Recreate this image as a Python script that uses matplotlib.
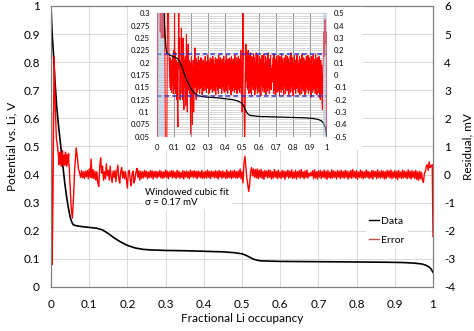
import numpy as np
import matplotlib
matplotlib.use("Agg")
import matplotlib.pyplot as plt
from matplotlib.lines import Line2D
from matplotlib.ticker import MultipleLocator, FuncFormatter

plt.rcParams['font.family'] = ['Lato', 'DejaVu Sans']
plt.rcParams['axes.unicode_minus'] = False

# measured potential (V) vs fractional Li occupancy
occ = [0, 0.003, 0.006, 0.01, 0.015, 0.02, 0.024, 0.028, 0.032, 0.036, 0.041, 0.045,
       0.05, 0.054, 0.058, 0.063, 0.07, 0.08, 0.1, 0.12, 0.135, 0.15, 0.165, 0.18, 0.2,
       0.22, 0.24, 0.26, 0.3, 0.35, 0.4, 0.45, 0.48, 0.5, 0.51, 0.52, 0.53, 0.54, 0.55,
       0.6, 0.7, 0.8, 0.88, 0.92, 0.95, 0.97, 0.98, 0.99, 0.995, 1.0]
potential_v = [1.0, 0.9, 0.84, 0.74, 0.64, 0.57, 0.52, 0.47, 0.42, 0.37, 0.32, 0.285,
               0.25, 0.232, 0.222, 0.219, 0.217, 0.215, 0.212, 0.209, 0.203, 0.19, 0.175,
               0.162, 0.148, 0.139, 0.134, 0.132, 0.13, 0.129, 0.127, 0.125, 0.122, 0.118,
               0.113, 0.106, 0.099, 0.095, 0.093, 0.091, 0.09, 0.089, 0.088, 0.087, 0.085,
               0.082, 0.078, 0.071, 0.064, 0.052]

# residual of the windowed cubic fit (mV), first few percent
err_head_x = [0.0, 0.001, 0.003, 0.005, 0.008, 0.011, 0.014, 0.017,
              0.020, 0.021, 0.022, 0.023, 0.024, 0.025, 0.026, 0.027, 0.028, 0.029,
              0.030, 0.031, 0.032, 0.033, 0.034, 0.035, 0.036, 0.037, 0.038, 0.039,
              0.040, 0.041, 0.042, 0.043, 0.044, 0.045, 0.046, 0.047, 0.048,
              0.05, 0.053, 0.056, 0.059, 0.062, 0.066, 0.069, 0.072]
err_head_mv = [0.3, 2.2, -3.2, -1.0, 4.2, 2.5, 1.3, 1.0,
               0.6, 0.35, 0.7, 0.4, 0.8, 0.45, 0.65, 0.3, 0.75, 0.5,
               0.85, 0.4, 0.6, 0.3, 0.7, 0.45, 0.55, 0.35, 0.8, 0.5,
               0.6, 0.3, 0.7, 0.4, 0.65, 0.5, 0.75, 0.35, 0.2,
               -0.4, -1.2, -1.55, -0.8, 0.2, 0.95, 0.6, 0.2]
# evenly sampled from 0.075 to 0.995 in steps of 0.0025 (20 per row)
err_mid_mv = [
    0.05, -0.10, 0.14, -0.12, 0.10, -0.14, 0.12, -0.08, 0.15, -0.15,
    0.20, -0.10, 0.55, -0.12, 0.18, -0.15, 0.12, -0.20, 0.10, -0.30,
    -0.42, 0.25, 0.60, 0.05, 0.30, -0.20, 0.10, -0.15, 0.38, -0.05,
    0.15, -0.20, 0.30, -0.10, -0.28, 0.12, -0.10, 0.15, -0.25, 0.10,
    0.33, -0.15, -0.30, 0.10, 0.25, -0.12, 0.12, -0.15, 0.10, -0.20,
    -0.48, 0.10, 0.15, -0.20, -0.40, 0.05, 0.12, -0.30, -0.15, 0.10,
    0.22, -0.10, 0.14, -0.20, 0.12, -0.14, 0.10, -0.12, 0.15, -0.08,
    0.12, -0.15, 0.09, -0.11, 0.14, -0.10, 0.13, -0.16, 0.11, -0.09,
    0.12, -0.13, 0.10, -0.08, 0.15, -0.12, 0.11, -0.14, 0.09, -0.10,
    0.16, -0.11, 0.12, -0.15, 0.10, -0.07, 0.14, -0.12, 0.13, -0.10,
    0.09, -0.14, 0.15, -0.10, 0.12, -0.13, 0.08, -0.11, 0.14, -0.16,
    0.11, -0.09, 0.13, -0.12, 0.10, -0.15, 0.16, -0.08, 0.12, -0.11,
    0.14, -0.10, 0.11, -0.15, 0.13, -0.09, 0.10, -0.12, 0.15, -0.14,
    0.09, -0.11, 0.12, -0.13, 0.16, -0.10, 0.11, -0.15, 0.13, -0.08,
    0.10, -0.12, 0.14, -0.11, 0.12, -0.16, 0.15, -0.09, 0.11, -0.13,
    0.13, -0.10, 0.09, -0.14, 0.16, -0.12, 0.10, -0.11, 0.14, -0.15,
    0.12, -0.10, 0.15, -0.12, 0.11, -0.14, 0.13, -0.10, 0.20, -0.15,
    0.10, -0.30, 0.35, 0.65, 0.30, -0.10, -0.35, -0.60, -0.35, 0.10,
    0.25, -0.05, 0.20, -0.10, 0.18, -0.12, 0.20, -0.15, 0.16, -0.10,
    0.18, -0.14, 0.12, -0.17, 0.15, -0.08, 0.13, -0.12, 0.17, -0.10,
    0.14, -0.16, 0.10, -0.12, 0.18, -0.09, 0.12, -0.15, 0.16, -0.11,
    0.09, -0.14, 0.15, -0.10, 0.13, -0.17, 0.11, -0.08, 0.16, -0.13,
    0.12, -0.10, 0.17, -0.14, 0.09, -0.12, 0.15, -0.16, 0.11, -0.09,
    0.14, -0.13, 0.18, -0.10, 0.10, -0.15, 0.13, -0.11, 0.16, -0.12,
    0.05, -0.06, 0.08, -0.05, 0.14, -0.15, 0.17, -0.12, 0.10, -0.16,
    0.13, -0.09, 0.15, -0.14, 0.11, -0.10, 0.16, -0.13, 0.12, -0.17,
    0.15, -0.11, 0.09, -0.14, 0.17, -0.12, 0.13, -0.10, 0.10, -0.16,
    0.14, -0.09, 0.12, -0.15, 0.16, -0.11, 0.11, -0.13, 0.15, -0.10,
    0.13, -0.16, 0.10, -0.12, 0.15, -0.14, 0.18, -0.09, 0.11, -0.13,
    0.14, -0.17, 0.09, -0.10, 0.16, -0.12, 0.12, -0.15, 0.10, -0.11,
    0.16, -0.10, 0.12, -0.14, 0.09, -0.12, 0.15, -0.16, 0.13, -0.08,
    0.11, -0.15, 0.17, -0.11, 0.10, -0.13, 0.14, -0.10, 0.12, -0.16,
    0.11, -0.14, 0.15, -0.09, 0.13, -0.12, 0.16, -0.15, 0.10, -0.11,
    0.14, -0.13, 0.12, -0.18, 0.15, -0.10, 0.09, -0.14, 0.16, -0.12,
    0.13, -0.11, 0.10, -0.15, 0.17, -0.12, 0.12, -0.16, 0.14, -0.10,
    0.11, -0.14, 0.15, -0.18, 0.10, -0.20, 0.12, -0.15, 0.08, -0.22,
    -0.28, 0.05, 0.10, 0.30, 0.35, 0.15, 0.45, 0.25, 0.30]
err_tail_x = [0.998, 1.0]
err_tail_mv = [0.35, -2.2]

sigma_mv = 0.17

err_mid_x = np.linspace(0.075, 0.995, len(err_mid_mv))
err_x = np.concatenate([err_head_x, err_mid_x, err_tail_x])
err_mv = np.concatenate([err_head_mv, err_mid_mv, err_tail_mv])

fmt = FuncFormatter(lambda v, p: f"{round(v, 3) + 0:g}")
spine_col = '#7f7f7f'

fig = plt.figure(figsize=(4.74, 3.31), dpi=100)
ax = fig.add_axes([0.1076, 0.133, 0.8059, 0.849])
ax.plot(occ, potential_v, color='black', lw=1.2)
ax.set_xlim(0, 1)
ax.set_ylim(0, 1)
ax.set_xticks(np.round(np.arange(0, 1.01, 0.1), 1))
ax.set_yticks(np.round(np.arange(0, 1.01, 0.1), 1))
ax.xaxis.set_major_formatter(fmt)
ax.yaxis.set_major_formatter(fmt)
ax.grid(color='#d9d9d9', lw=0.7)
ax.set_axisbelow(True)
ax.tick_params(length=0, labelsize=8.5)
ax.tick_params(axis='x', pad=9)
ax.tick_params(axis='y', pad=8)
ax.set_xlabel("Fractional Li occupancy", fontsize=8.5, labelpad=2)
ax.set_ylabel("Potential vs. Li, V", fontsize=8.5, labelpad=4)
for s in ax.spines.values():
    s.set_color(spine_col)
    s.set_linewidth(0.8)

axr = ax.twinx()
axr.plot(err_x, err_mv, color='red', lw=1.0)
axr.set_ylim(-4, 6)
axr.set_yticks(range(-4, 7))
axr.tick_params(length=0, labelsize=8.5, pad=8)
axr.set_ylabel("Residual, mV", fontsize=8.5, labelpad=5)
for s in axr.spines.values():
    s.set_color(spine_col)
    s.set_linewidth(0.8)

ax.text(0.246, 0.317, "Windowed cubic fit\n\u03c3 = 0.17 mV", fontsize=7,
        va='center', ha='left', linespacing=1.15,
        bbox=dict(facecolor='white', edgecolor='none', pad=2))

handles = [Line2D([], [], color='black', lw=1.0),
           Line2D([], [], color='#c0504d', lw=1.0)]
axr.legend(handles, ["Data", "Error"], loc='upper left', bbox_to_anchor=(0.81, 0.28),
           fontsize=7.5, handlelength=1.0, handletextpad=0.2, labelspacing=0.9,
           frameon=True, facecolor='white', edgecolor='none', framealpha=1,
           borderpad=0.3)

# white panel behind the inset
box = fig.add_axes([128 / 474, 1 - 150 / 331, 234 / 474, 143 / 331])
box.set_facecolor('white')
box.set_xticks([])
box.set_yticks([])
for s in box.spines.values():
    s.set_visible(False)

ax_in = fig.add_axes([0.3306, 0.587, 0.3586, 0.3728])
ax_in.set_xlim(0, 1)
ax_in.set_ylim(0.05, 0.3)
ax_in.set_xticks(np.round(np.arange(0, 1.01, 0.1), 1))
ax_in.yaxis.set_major_locator(MultipleLocator(0.025))
ax_in.yaxis.set_minor_locator(MultipleLocator(0.005))
ax_in.xaxis.set_major_formatter(fmt)
ax_in.yaxis.set_major_formatter(fmt)
ax_in.grid(axis='y', which='both', color='#c8c8c8', lw=0.5)
ax_in.grid(axis='x', which='major', color='#8c8c8c', lw=0.7)
ax_in.tick_params(which='both', length=0, labelsize=5.5, pad=5)
for s in ax_in.spines.values():
    s.set_visible(False)

ax_in_r = ax_in.twinx()
ax_in_r.plot(err_x, err_mv, color='red', lw=0.75, zorder=2)
ax_in_r.plot(occ, potential_v, color='black', lw=0.9, zorder=3,
             transform=ax_in.transData)
ax_in_r.axhline(sigma_mv, color='#3535c8', lw=1.1, ls=(0, (3, 2)), zorder=4)
ax_in_r.axhline(-sigma_mv, color='#3535c8', lw=1.1, ls=(0, (3, 2)), zorder=4)
ax_in_r.axvspan(0, 0.04, color='#a9c1e0', alpha=0.5, lw=0, zorder=5)
ax_in_r.axvspan(0.977, 1, color='#a9c1e0', alpha=0.5, lw=0, zorder=5)
ax_in_r.set_xlim(0, 1)
ax_in_r.set_ylim(-0.5, 0.5)
ax_in_r.set_yticks(np.round(np.arange(-0.5, 0.51, 0.1), 1))
ax_in_r.yaxis.set_major_formatter(fmt)
ax_in_r.tick_params(length=0, labelsize=5.5, pad=5)
for s in ax_in_r.spines.values():
    s.set_visible(False)

fig.savefig("out.png", dpi=100)
